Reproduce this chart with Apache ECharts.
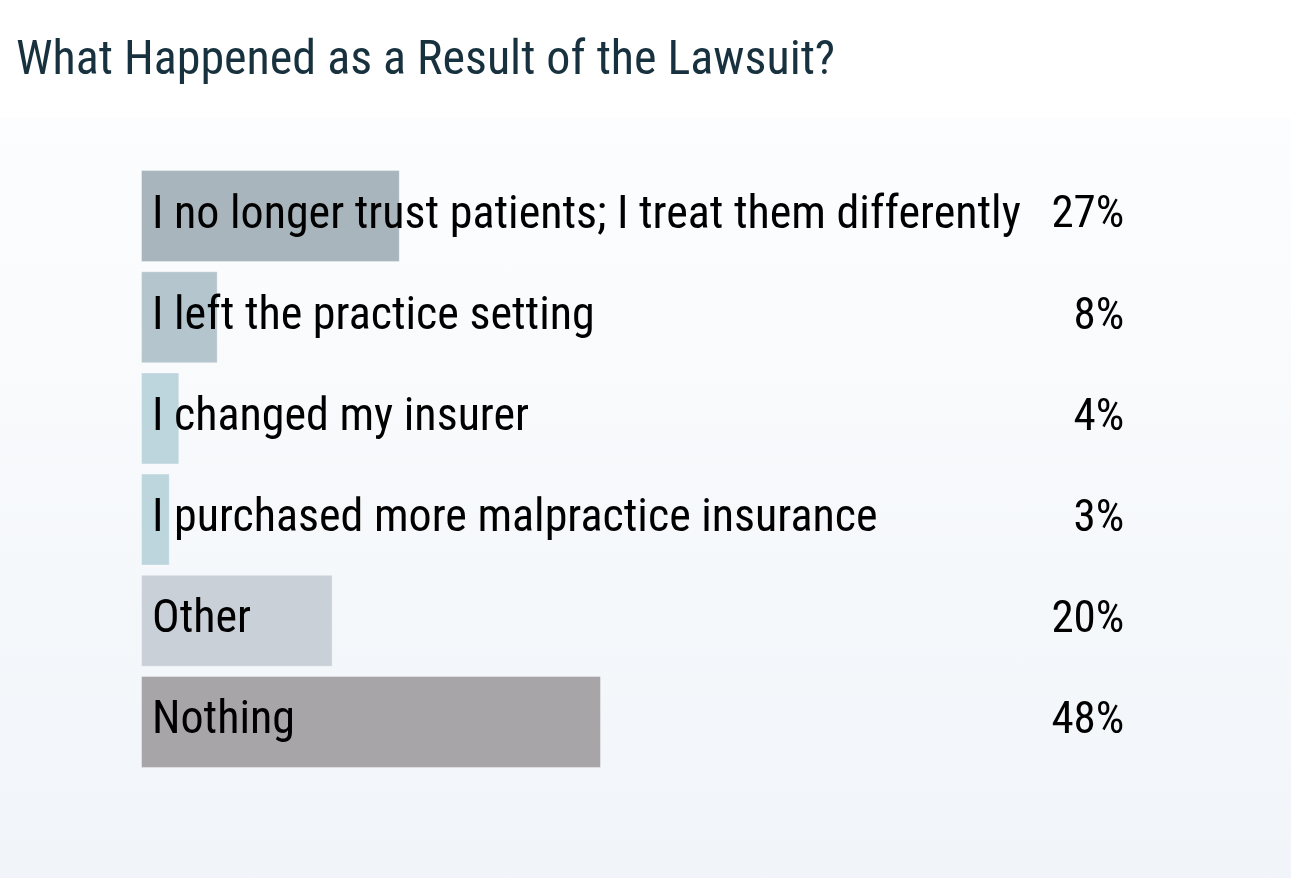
<!DOCTYPE html>
<html lang="en">
<head>
    <meta charset="utf-8">
    <script src="https://cdn.jsdelivr.net/npm/echarts@6.0.0/dist/echarts.min.js"></script>
    <style>
        html,body{margin:0;padding:0;width:1291px;height:878px;overflow:hidden;
            background:linear-gradient(to bottom,#ffffff 0,#ffffff 118px,#fcfdfe 118px,#f1f5f9 878px);}
        #main{width:1291px;height:878px;}
    </style>
</head>
<body>
<div id="main"></div>
<script type="text/javascript">
    var categories = [
        'I no longer trust patients; I treat them differently',
        'I left the practice setting',
        'I changed my insurer',
        'I purchased more malpractice insurance',
        'Other',
        'Nothing'
    ];
    var percents = [27, 8, 4, 3, 20, 48];

    var barColors = ['#a8b5bd', '#b4c5cd', '#bdd5dd', '#bdd5dd', '#c9d0d8', '#a7a5a8'];
    var fontName = "'Roboto Condensed', 'Liberation Sans Narrow', Roboto, sans-serif";

    var myChart = echarts.init(document.getElementById('main'), null, {renderer: 'canvas'});

    var barData = [];
    for (var i = 0; i < percents.length; i++) {
        barData.push({
            value: percents[i],
            itemStyle: {color: barColors[i]}
        });
    }

    myChart.setOption({
        animation: false,
        title: {
            text: 'What Happened as a Result of the Lawsuit?',
            left: 11,
            top: 33,
            textStyle: {
                fontFamily: fontName,
                fontSize: 48,
                fontWeight: 'normal',
                color: '#17313e'
            }
        },
        grid: {
            left: 141,
            top: 165.5,
            width: 958.3,
            height: 607
        },
        xAxis: {
            type: 'value',
            min: 0,
            max: 100,
            show: false
        },
        yAxis: [{
            type: 'category',
            data: categories,
            inverse: true,
            axisLine: {show: false},
            axisTick: {show: false},
            axisLabel: {
                inside: true,
                margin: 11,
                fontFamily: fontName,
                fontSize: 46,
                color: '#000',
                padding: [0, 0, 6, 0]
            },
            z: 10
        }, {
            type: 'category',
            data: categories,
            inverse: true,
            position: 'right',
            axisLine: {show: false},
            axisTick: {show: false},
            axisLabel: {
                margin: 25,
                align: 'right',
                fontFamily: fontName,
                fontSize: 45,
                color: '#000',
                padding: [0, 0, 10, 0],
                formatter: function (val, idx) {
                    return percents[idx] + '%';
                }
            }
        }],
        series: [{
            type: 'bar',
            data: barData,
            barWidth: 92,
            itemStyle: {
                borderColor: 'rgba(255,255,255,0.35)',
                borderWidth: 1
            },
            silent: true
        }]
    });
</script>
</body>
</html>
